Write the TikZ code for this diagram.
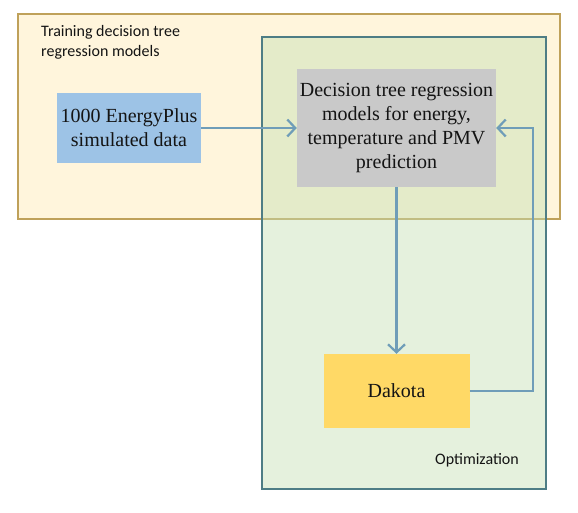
\documentclass[tikz,border=0pt]{standalone}
\usepackage{fontspec}
\setmainfont{Liberation Serif}
\newfontfamily\calfont{Carlito}
\usetikzlibrary{arrows.meta}
\definecolor{trainfill}{HTML}{FFF5DC}
\definecolor{trainline}{HTML}{BFA15A}
\definecolor{optfill}{HTML}{C5E0B4}
\definecolor{optline}{HTML}{4E7D85}
\definecolor{flowblue}{HTML}{6F9DB8}
\definecolor{datablue}{HTML}{9DC3E6}
\definecolor{modelgray}{HTML}{C9C9C9}
\definecolor{dakotagold}{HTML}{FFD966}
\tikzset{
  flowarrow/.style={-{Straight Barb[length=8pt,width=17pt]}, line width=2.2pt, draw=flowblue},
  stepbox/.style={inner sep=0pt, align=center, text=black!92, font=\fontsize{20}{24}\selectfont},
  regionlabel/.style={inner sep=0pt, align=left, text=black!92, font=\calfont\fontsize{16}{20}\selectfont}
}

\begin{document}
\begin{tikzpicture}[x=1pt, y=-1pt]
    \useasboundingbox (0,0) rectangle (578,512);
    % training region
    \draw[fill=trainfill, draw=trainline, line width=2.2pt] (18,14) rectangle (560,219);
    \node[regionlabel, anchor=north west] (traintitle) at (41,25) {Training decision tree\\regression models};
    % optimization region
    \draw[fill=optfill, fill opacity=0.45, draw=optline, line width=2.2pt] (262,37) rectangle (546,489);
    \node[regionlabel] (opttitle) at (477,460) {Optimization};
    \node[stepbox, fill=datablue, minimum width=144pt, minimum height=70pt] (data) at (129,128) {1000 EnergyPlus\\simulated data};
    \node[stepbox, fill=modelgray, minimum width=199pt, minimum height=118pt] (model) at (396.5,128) {Decision tree regression\\models for energy,\\temperature and PMV\\prediction};
    \node[stepbox, fill=dakotagold, minimum width=146pt, minimum height=74pt] (dakota) at (396.5,391) {Dakota};
    \coordinate (loop) at (533,391);
    \draw[flowarrow] (data.east) -- (model.west);
    \draw[flowarrow] (model.south) -- (dakota.north);
    \draw[flowarrow] (dakota.east) -- (loop) |- (model.east);
  \end{tikzpicture}
\end{document}
